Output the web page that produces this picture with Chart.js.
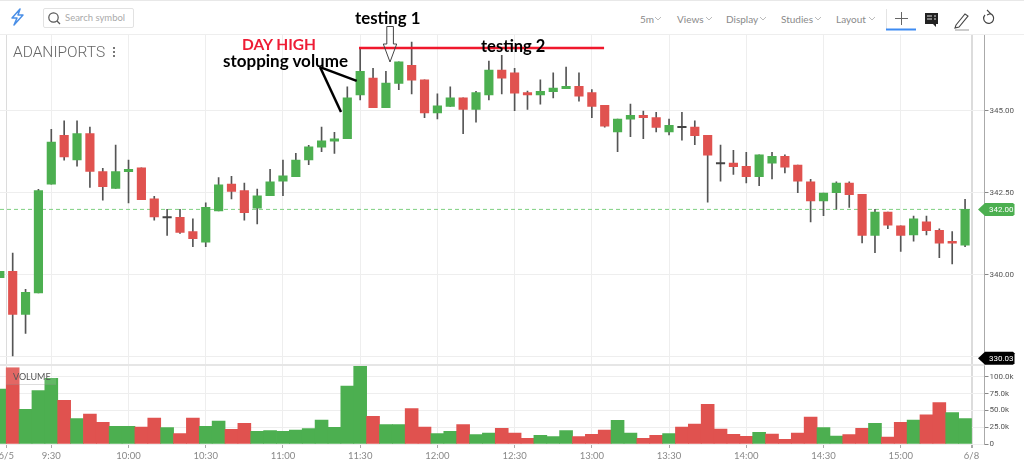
<!DOCTYPE html>
<html>
<head>
<meta charset="utf-8">
<title>ADANIPORTS</title>
<script src="https://cdn.jsdelivr.net/npm/chart.js@4.4.1/dist/chart.umd.min.js"></script>
<style>
  html, body { margin: 0; padding: 0; background: #fff; overflow: hidden; }
  #page { position: relative; width: 1024px; height: 468px; font-family: Lato, "Open Sans", sans-serif; }
  #chart { position: absolute; left: 0; top: 0; }
  #toolbar { position: absolute; left: 0; top: 0; width: 1024px; height: 35px; background: #fff; border-top: 1px solid #e8e8e8; border-bottom: 1px solid #eee; box-sizing: border-box; }
  #toolbar svg { position: absolute; left: 0; top: -1px; }
  .menu { position: absolute; top: 11px; font-size: 10px; line-height: 14px; color: #8a8a8a; white-space: nowrap; }
  .search { position: absolute; left: 43px; top: 7px; width: 91px; height: 20px; border: 1px solid #e2e2e2; border-radius: 2px; box-sizing: border-box; }
  .search span { position: absolute; left: 21px; top: 2px; font-size: 9.5px; line-height: 14px; color: #aaa; white-space: nowrap; }
  .note { position: absolute; font-weight: 700; white-space: nowrap; line-height: 18px; color: #000; }
  #symbol { position: absolute; left: 13px; top: 42px; font-family: Roboto, sans-serif; font-weight: 300; font-size: 15.5px; line-height: 20px; color: #666; }
  #dots { position: absolute; left: 113px; top: 47px; width: 2px; height: 10px; background: repeating-linear-gradient(#777 0 2px, transparent 2px 4px); }
  #volumeTag { position: absolute; left: 6px; top: 368px; width: 50px; height: 17px; box-sizing: border-box; padding-left: 7px; font-size: 9px; line-height: 17px; color: #555; background: rgba(255,255,255,.12); border-bottom: 1px solid rgba(120,120,120,.25); }
  #arrow { position: absolute; left: 0; top: 0; pointer-events: none; }
</style>
</head>
<body>
<div id="page">
  <canvas id="chart" width="1024" height="468"></canvas>

  <div id="toolbar">
    <svg width="1024" height="35" fill="none">
      <path d="M20 11 L12 20 H17 L14 27 L23 17 H18 Z" stroke="#4a8fe7" stroke-width="1.5" stroke-linejoin="round" transform="translate(0,-2)"/>
      <circle cx="53.5" cy="17.5" r="4.7" stroke="#555" stroke-width="1.2"/>
      <path d="M57 21 L60 24" stroke="#555" stroke-width="1.2"/>
      <path d="M655 17l3 3 3-3M706 17l3 3 3-3M760 17l3 3 3-3M815 17l3 3 3-3M869 17l3 3 3-3" stroke="#bbb"/>
      <path d="M886.5 9V30" stroke="#e4e4e4"/>
      <path d="M886 29.5H916" stroke="#3d8bf2" stroke-width="2"/>
      <path d="M895 18.5H908M901.5 12V25" stroke="#666" stroke-width="1"/>
      <path d="M925 13H938V24H936V27L933 24H925Z" fill="#222"/>
      <path d="M927 16H932M927 19H932M934 16H936M934 19H936" stroke="#ddd"/>
      <path d="M956 25L965 14L968 16L959 27L955 28Z" stroke="#444" stroke-width="1.1"/>
      <path d="M955 30H969" stroke="#999"/>
      <path d="M985 15A5 5 0 1 0 990 13.6" stroke="#444" stroke-width="1.2"/>
      <path d="M987 10L990.5 13.5L987 15" stroke="#444" stroke-width="1.1"/>
    </svg>
    <div class="search"><span>Search symbol</span></div>
    <div class="menu" style="left:640px">5m</div>
    <div class="menu" style="left:677px">Views</div>
    <div class="menu" style="left:726px">Display</div>
    <div class="menu" style="left:781px">Studies</div>
    <div class="menu" style="left:836px">Layout</div>
  </div>

  <div id="symbol">ADANIPORTS</div>
  <div id="dots"></div>
  <div id="volumeTag">VOLUME</div>

  <svg id="arrow" width="1024" height="468">
    <path d="M386.8 26.5H393.4V44H396.7L390 62L383.3 44H386.8Z" fill="none" stroke="#444" stroke-width="1"/>
  </svg>

  <div class="note" style="left:355px;top:9px;font-size:16.8px">testing 1</div>
  <div class="note" style="left:481px;top:37px;font-size:16.5px">testing 2</div>
  <div class="note" style="left:242px;top:35px;font-size:15.5px;color:#ee1c35">DAY HIGH</div>
  <div class="note" style="left:223px;top:52px;font-size:17px">stopping volume</div>
</div>

<script>
// price candles, index 0 is the last bar of the previous session
const opens = [339.92,340.11,338.80,339.45,342.77,344.26,343.51,344.31,343.15,342.64,343.15,343.27,342.32,341.76,341.76,341.32,341.00,341.95,342.77,342.57,342.04,342.42,342.86,343.00,343.51,343.90,344.08,344.16,345.49,346.00,345.10,345.84,346.39,345.95,344.94,345.14,345.40,345.05,345.49,346.25,346.16,345.56,345.49,345.59,345.68,345.75,345.56,345.17,344.36,344.75,344.87,344.80,344.36,344.51,344.51,344.26,343.41,343.41,343.31,343.00,343.41,343.62,343.35,342.84,342.26,342.51,342.80,342.46,341.21,341.92,341.50,341.22,341.62,341.36,341.03,340.91];
const highs = [340.11,340.67,339.56,342.61,344.44,344.70,344.70,344.51,343.25,343.96,343.50,343.27,342.40,342.00,342.00,341.71,342.20,342.97,343.01,342.80,342.62,343.22,343.50,343.71,343.95,344.51,344.35,345.74,346.93,346.30,346.21,346.50,347.10,345.95,345.52,345.74,345.40,345.60,346.52,346.70,346.30,345.61,345.95,346.16,346.34,346.16,345.65,345.17,344.75,345.21,345.00,344.96,344.75,344.96,344.70,344.26,343.96,343.80,343.74,343.66,343.74,343.66,343.35,342.92,342.50,342.84,342.84,342.46,342.00,341.92,341.50,341.80,341.80,341.41,341.32,342.31];
const lows = [339.92,337.53,338.22,339.45,342.77,343.50,343.32,342.67,342.28,342.64,342.20,342.30,341.67,341.21,341.27,340.86,340.86,341.95,342.32,341.67,341.56,342.42,342.42,343.00,343.36,343.76,343.71,344.16,345.34,345.10,345.10,345.65,345.52,344.80,344.76,345.14,344.31,344.66,345.34,345.52,345.01,345.05,345.21,345.40,345.68,345.30,344.80,344.51,343.76,344.22,344.16,344.36,344.27,344.11,343.97,342.22,342.86,343.07,342.81,342.72,342.93,343.11,342.51,341.62,341.81,342.01,342.06,340.98,340.68,341.41,340.72,341.03,341.22,340.53,340.34,340.86];
const closes = [340.11,338.80,339.47,342.57,344.05,343.60,344.31,343.16,342.69,343.15,343.22,342.30,341.77,341.76,341.30,341.11,342.06,342.75,342.55,341.90,342.41,342.84,343.02,343.50,343.91,344.09,344.15,345.40,346.21,345.10,345.85,346.50,345.94,344.94,345.16,345.40,345.05,345.56,346.25,346.00,345.54,345.49,345.60,345.70,345.75,345.45,345.14,344.54,344.75,344.87,344.80,344.50,344.56,344.51,344.25,343.65,343.41,343.30,343.00,343.66,343.62,343.29,342.86,342.26,342.50,342.80,342.45,341.21,341.92,341.52,341.21,341.71,341.35,340.97,340.97,342.00];

// volume pane, in shares
const volumes = [81800,113500,51600,79400,97700,65000,37700,44600,32200,26300,26300,25300,38700,24300,15400,38700,26300,34200,21800,30700,18800,19800,18800,20800,22800,35700,24800,86300,118000,41200,28800,28800,52600,25300,15400,18800,28800,13900,16400,23300,16400,8400,12900,10900,19800,10900,14400,20800,35200,16400,8400,12900,15400,25300,29800,59000,22300,14400,11400,17400,14900,6900,16400,40200,24300,11900,13900,23300,30800,10400,32200,35700,43600,61500,46600,37700];
const volumeUp = [1,0,1,1,1,0,1,0,0,1,1,0,0,1,0,0,1,1,0,0,1,1,1,1,1,1,1,1,1,0,1,1,0,0,1,1,0,1,1,0,0,0,1,1,1,0,0,0,1,1,0,0,1,0,0,0,0,0,0,1,0,0,0,0,1,1,0,0,1,0,0,1,0,0,1,1];

// axes
const timeTicks = [0.5,4,10,16,22,28,34,40,46,52,58,64,70,75.5];
const timeLabels = ["6/5","9:30","10:00","10:30","11:00","11:30","12:00","12:30","13:00","13:30","14:00","14:30","15:00","6/8"];
const sessionBreaks = ["6/5","6/8"];
const priceTicks = [337.5,340,342.5,345];
const volumeTicks = [0,25000,50000,75000,100000];

// hand drawn notes, as [bar index, price]
const dayHighLine = [[27.91,346.92],[46.95,346.92]];
const stoppingLine1 = [[24.88,346.34],[26.51,344.97]];
const stoppingLine2 = [[24.88,346.34],[27.73,345.92]];

const lastPrice = 342.00;
const crosshairPrice = 337.46;
const crosshairLabel = "330.03";

const GREEN = "#4caf50";
const RED = "#e0524f";
const DOJI = "#444";

const pts = (rows) => rows.map(([x, y]) => ({ x, y }));
const noteLine = (rows, color, width) => ({
  type: "line", data: pts(rows), yAxisID: "y", borderColor: color, borderWidth: width,
  pointRadius: 0, tension: 0,
});

const bodies = opens.map((o, i) => ({
  x: i,
  y: o === closes[i] ? [o - 0.02, o + 0.02] : [o, closes[i]],
}));
const bodyColors = opens.map((o, i) =>
  o === closes[i] ? DOJI : closes[i] > o ? GREEN : RED
);
const wicks = highs.map((h, i) => ({ x: i, y: [lows[i], h] }));
const bars = volumes.map((v, i) => ({ x: i, y: v }));

// labels at the scale ends must not pull the plot area in
const fitScale = (scale, size) => {
  scale.paddingLeft = scale.paddingRight = scale.paddingTop = scale.paddingBottom = 0;
  if (scale.isHorizontal()) scale.height = size;
  else scale.width = size;
};

// price tags on the axis and the pane separator
const overlayPlugin = {
  id: "overlay",
  afterDraw(chart) {
    const { ctx, scales } = chart;
    const right = scales.y.left;

    ctx.save();
    ctx.fillStyle = "#e6e6e6";
    ctx.fillRect(0, scales.y.bottom - 1, right, 2);

    const tag = (price, color, label) => {
      const y = scales.y.getPixelForValue(price);
      ctx.fillStyle = color;
      ctx.beginPath();
      ctx.moveTo(978, y);
      ctx.lineTo(985, y - 6.5);
      ctx.lineTo(1013, y - 6.5);
      ctx.lineTo(1014.5, y - 5);
      ctx.lineTo(1014.5, y + 5);
      ctx.lineTo(1013, y + 6.5);
      ctx.lineTo(985, y + 6.5);
      ctx.closePath();
      ctx.fill();
      ctx.fillStyle = "#fff";
      ctx.font = "8px Roboto";
      ctx.textAlign = "left";
      ctx.textBaseline = "middle";
      ctx.fillText(label, 989, y + 0.5);
    };
    tag(lastPrice, GREEN, lastPrice.toFixed(2));
    tag(crosshairPrice, "#000", crosshairLabel);
    ctx.restore();
  },
};

new Chart(document.getElementById("chart"), {
  data: {
    datasets: [
      noteLine(dayHighLine, "#f0182c", 2.6),
      noteLine(stoppingLine1, "#000", 2.5),
      noteLine(stoppingLine2, "#000", 2.5),
      {
        type: "bar", data: bodies, yAxisID: "y", grouped: false,
        backgroundColor: bodyColors, barThickness: 8.5,
      },
      {
        type: "bar", data: wicks, yAxisID: "y", grouped: false,
        backgroundColor: "#555", barThickness: 1,
      },
      {
        type: "line", data: pts([[0.014, lastPrice], [75.6, lastPrice]]), yAxisID: "y",
        borderColor: "#7fd081", borderWidth: 1, borderDash: [4, 3], pointRadius: 0,
      },
      {
        type: "bar", data: bars, yAxisID: "yVolume", grouped: false,
        backgroundColor: volumeUp.map((u) => (u ? GREEN : RED)), barThickness: 12.95,
      },
    ],
  },
  options: {
    responsive: false,
    animation: false,
    layout: { autoPadding: false, padding: { top: 35 } },
    plugins: { legend: { display: false }, tooltip: { enabled: false } },
    scales: {
      x: {
        type: "linear",
        offset: false,
        min: 0.014,
        max: 76.51,
        afterBuildTicks: (scale) => {
          scale.ticks = timeTicks.map((value) => ({ value }));
        },
        afterFit: (scale) => fitScale(scale, 24),
        border: { display: false },
        grid: {
          offset: false,
          color: (c) => (sessionBreaks.includes(timeLabels[c.index]) ? "#dcdcdc" : "#eeeeee"),
          lineWidth: (c) => (timeLabels[c.index] === "6/8" ? 2 : 1),
          tickColor: "#aaa",
          tickLength: 4,
        },
        ticks: {
          autoSkip: false,
          maxRotation: 0,
          padding: 2,
          color: "#888",
          font: { family: "Lato", size: 9.5 },
          callback: (v, i) => timeLabels[i],
        },
      },
      y: {
        position: "right",
        stack: "panes",
        stackWeight: 330,
        min: 337.256,
        max: 347.317,
        afterBuildTicks: (scale) => {
          scale.ticks = priceTicks.map((value) => ({ value }));
        },
        afterFit: (scale) => fitScale(scale, 39.5),
        border: { color: "#aaa" },
        grid: { color: "#eeeeee", tickColor: "#888", tickLength: 4 },
        ticks: {
          autoSkip: false,
          padding: 1,
          color: "#555",
          font: { family: "Roboto", size: 8 },
          callback: (v) => v.toFixed(2),
        },
      },
      yVolume: {
        position: "right",
        stack: "panes",
        stackWeight: 79,
        min: 0,
        max: 117600,
        afterBuildTicks: (scale) => {
          scale.ticks = volumeTicks.map((value) => ({ value }));
        },
        afterFit: (scale) => fitScale(scale, 39.5),
        border: { color: "#aaa" },
        grid: { color: "#eeeeee", tickColor: "#888", tickLength: 4 },
        ticks: {
          autoSkip: false,
          padding: 1,
          color: "#555",
          font: { family: "Roboto", size: 8 },
          callback: (v) => (v === 0 ? "0" : (v / 1000).toFixed(1) + "k"),
        },
      },
    },
  },
  plugins: [overlayPlugin],
});
</script>
</body>
</html>
